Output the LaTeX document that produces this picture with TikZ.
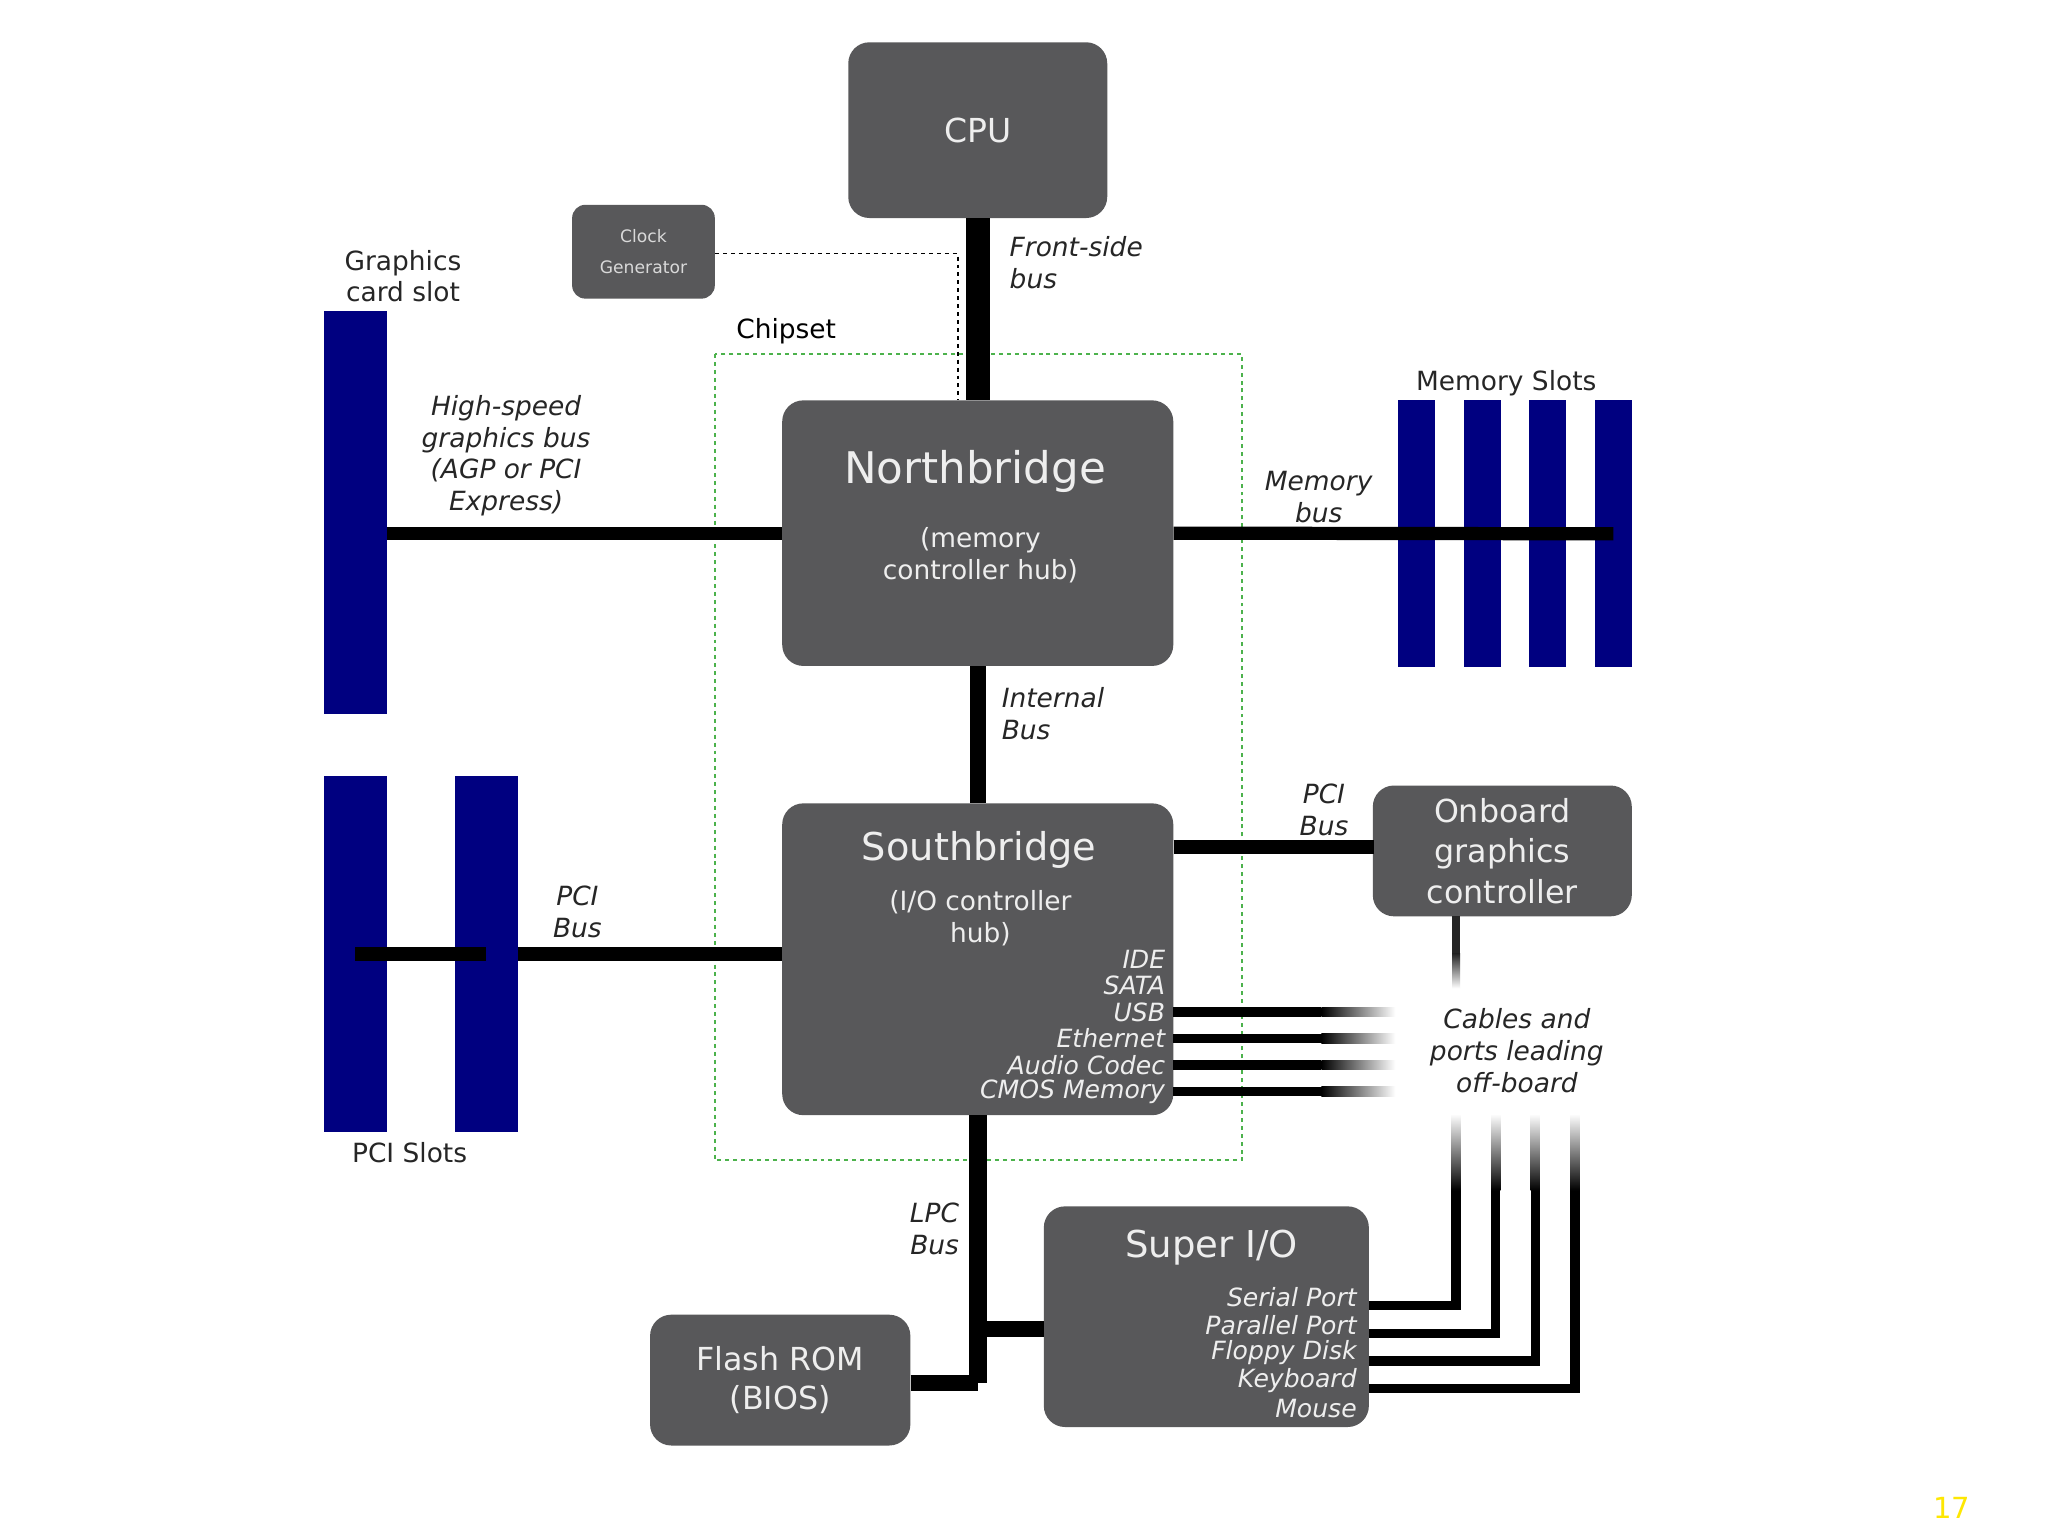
\documentclass[tikz,border=0pt]{standalone}
\usepackage{fontspec}
\setmainfont{DejaVu Sans}
\begin{document}
\begin{tikzpicture}[x=1pt,y=-1pt,
  box/.style={fill=boxgray,rounded corners=16pt,inner sep=0pt},
  slot/.style={fill=slotblue,inner sep=0pt,minimum width=48pt},
  wt/.style={text=txt,align=center,inner sep=0pt},
  lab/.style={align=center,inner sep=0pt,font=\fontsize{20}{24}\selectfont\itshape,text=black!85},
  lst/.style={text=txt,align=right,inner sep=0pt,anchor=east,font=\fontsize{19}{20}\selectfont\itshape},
  bus/.style={line width=#1,black},
  ]
\definecolor{boxgray}{HTML}{58585A}
\definecolor{txt}{HTML}{EEEEEE}
\definecolor{slotblue}{HTML}{000080}
\useasboundingbox (0,0) rectangle (1550,1162);
\fill[white] (0,0) rectangle (1550,1162);
% chipset
\draw[green!40!gray,dashed,line width=1.5pt] (541,268) rectangle (940,878);
\node[inner sep=0pt,font=\fontsize{20}{24}\selectfont] (chip) at (595,251) {Chipset};
% buses behind boxes
\node[box,minimum width=196pt,minimum height=133pt] (cpu) at (740,98.5) {};
\node[box,minimum width=296pt,minimum height=201pt] (nb) at (740,403.5) {};
\node[box,minimum width=296pt,minimum height=236pt] (sb) at (740,726) {};
\node[box,minimum width=108pt,minimum height=71pt,rounded corners=10pt] (clk) at (487,190.5) {};
\node[box,minimum width=196pt,minimum height=99pt] (ogc) at (1137,644) {};
\node[box,minimum width=246pt,minimum height=167pt] (sio) at (913,996.5) {};
\node[box,minimum width=197pt,minimum height=99pt] (flash) at (590.5,1044.5) {};
% slots
\node[slot,minimum height=305pt] (gslot) at (269,387.5) {};
\foreach \i/\x in {1/1072,2/1122,3/1171,4/1221}
  \node[slot,minimum width=28pt,minimum height=202pt] (m\i) at (\x,404) {};
\node[slot,minimum height=270pt] (p1) at (269,722) {};
\node[slot,minimum height=270pt] (p2) at (368,722) {};
% connectors
\draw[bus=18pt] (cpu.south) -- (nb.north);
\coordinate (clkbend) at (725,192);
\draw[dashed,line width=1.2pt] (clk.east |- clkbend) -- (clkbend) -- (clkbend |- nb.north);
\draw[bus=10pt] (gslot.east |- nb.west) -- (nb.west);
\draw[bus=10pt] (nb.east) -- (m4.center);
\draw[bus=12pt] (nb.south) -- (sb.north);
\draw[bus=10pt] (p1.center) -- (p2.center);
\draw[bus=10pt] (p2.east) -- (sb.west |- p2.east);
\coordinate (ogcw) at (1040,641);
\draw[bus=10pt] (sb.east |- ogcw) -- (ogcw);
\coordinate (lpcb) at (740,1047);
\draw[bus=14pt] (sb.south) -- (lpcb);
\draw[bus=12pt] (flash.east |- lpcb) -- (lpcb);
\coordinate (lpcs) at (740,1006);
\draw[bus=12pt] (lpcs) -- (sio.west |- lpcs);
% onboard down
\fill[black!85] (1099,693) rectangle (1105,722);
\shade[top color=black!85,bottom color=white] (1099,722) rectangle (1105,748);
% SB cables
\foreach \y in {766,786,806,826}{
  \fill[black] (888,\y-3.5) rectangle (1000,\y+3.5);
  \shade[left color=black,right color=white] (1000,\y-3.5) rectangle (1056,\y+3.5);
}
% Super I/O cables
\foreach \y/\x in {988/1102,1009/1132,1030/1162,1051/1192}{
  \draw[line width=7pt,line join=miter] (1036,\y) -- (\x,\y) -- (\x,900);
  \shade[top color=white,bottom color=black] (\x-3.5,843) rectangle (\x+3.5,901);
}
% texts
\node[wt,font=\fontsize{25}{28}\selectfont] at (cpu.center) {CPU};
\node[wt,font=\fontsize{13}{23}\selectfont,text=black!15] at (clk.center) {Clock\\Generator};
\node[wt,font=\fontsize{33}{38}\selectfont] at (738,357) {Northbridge};
\node[wt,font=\fontsize{20}{24}\selectfont] at (742,420) {(memory\\controller hub)};
\node[wt,font=\fontsize{29}{34}\selectfont] at (741,643) {Southbridge};
\node[wt,font=\fontsize{20}{24}\selectfont] at (742,695) {(I/O controller\\hub)};
\node[lst] at (882,726) {IDE};
\node[lst] at (882,746) {SATA};
\node[lst] at (882,766) {USB};
\node[lst] at (882,786) {Ethernet};
\node[lst] at (882,806) {Audio Codec};
\node[lst] at (882,826) {CMOS Memory};
\node[wt,font=\fontsize{24}{30.5}\selectfont] at (ogc.center) {Onboard\\graphics\\controller};
\node[wt,font=\fontsize{28}{32}\selectfont] at (917,944) {Super I/O};
\node[lst] at (1027,982) {Serial Port};
\node[lst] at (1027,1003) {Parallel Port};
\node[lst] at (1027,1024) {Floppy Disk};
\node[lst] at (1027,1045) {Keyboard};
\node[lst] at (1027,1066) {Mouse};
\node[wt,font=\fontsize{24}{30}\selectfont] at (flash.center) {Flash ROM\\(BIOS)};
% labels
\node[lab,align=left,anchor=west] at (764,199) {Front-side\\bus};
\node[lab,font=\fontsize{20}{24}\selectfont] at (305,209) {Graphics\\card slot};
\node[lab] at (383,345) {High-speed\\graphics bus\\(AGP or PCI\\Express)};
\node[lab,font=\fontsize{20}{24}\selectfont] at (1140,290) {Memory Slots};
\node[lab] at (998,376) {Memory\\bus};
\node[lab,align=left,anchor=west] at (758,540) {Internal\\Bus};
\node[lab] at (1002,613) {PCI\\Bus};
\node[lab] at (437,690) {PCI\\Bus};
\node[lab,font=\fontsize{20}{24}\selectfont] at (310,872) {PCI Slots};
\node[lab] at (1148,795) {Cables and\\ports leading\\off-board};
\node[lab,align=right,anchor=east] at (726,930) {LPC\\Bus};
\node[inner sep=0pt,text=yellow!90!orange,font=\fontsize{22}{24}\selectfont\rmfamily] at (1477,1141) {17};
\end{tikzpicture}
\end{document}
